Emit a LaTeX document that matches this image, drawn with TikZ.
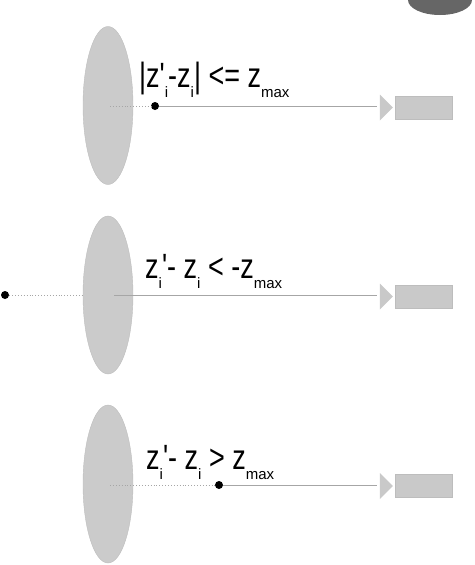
\documentclass[tikz,border=0pt]{standalone}
\usepackage{fontspec}
\setmainfont{Liberation Sans}
\usepackage{xcolor}
\usetikzlibrary{shapes.geometric,positioning}

\definecolor{lensgray}{HTML}{CBCBCB}
\definecolor{lensedge}{HTML}{BDBDBD}
\definecolor{boxgray}{HTML}{C9C9C9}
\definecolor{raygray}{HTML}{A6A6A6}
\definecolor{capgray}{HTML}{666666}

\newcommand{\tall}[1]{\scalebox{1}[1.3]{#1}}
\newcommand{\lowsub}[1]{\raisebox{-10pt}{\fontsize{15}{15}\selectfont #1}}
\newcommand{\tick}{\textquotesingle}

\begin{document}
\begin{tikzpicture} [
    x = 1pt, y = -1pt,
    lens/.style = { ellipse, fill = lensgray, draw = lensedge, minimum width = 50pt, minimum height = 158pt, inner sep = 0 },
    spot/.style = { circle, fill = black, minimum size = 8pt, inner sep = 0 },
    sensor/.style = { rectangle, fill = boxgray, draw = lensedge, minimum width = 57pt, minimum height = 23pt, inner sep = 0 },
    ray/.style = { draw = raygray, line width = 0.9pt },
    virt/.style = { draw = raygray, dotted, line width = 0.9pt },
    lbl/.style = { anchor = base west, inner sep = 0, font = \fontsize{27}{27}\selectfont }
    ]

    \useasboundingbox (0,0) rectangle (474,565);
    \clip (0,0) rectangle (474,565);

    % corner shape
    \fill [capgray] (440,0) ellipse [x radius = 32pt, y radius = 15pt];

    % first case
    \node [lens] (lensA) at (108,105.5) {};
    \node [sensor] (boxA) at (423.5,107.5) {};
    \fill [boxgray] ([xshift=-2pt]boxA.west) -- ++(-13,-13) -- ++(0,26) -- cycle;
    \coordinate (axisA) at (110,106);
    \coordinate (endA) at (377,106);
    \node [spot] (spotA) at (155,106) {};
    \draw [virt] (axisA) -- (spotA);
    \draw [ray] (spotA) -- (endA);
    \node [lbl] (labelA) at (139,87) {\tall{|z\tick}\lowsub{i}\tall{-z}\lowsub{i}\tall{| <= z}\lowsub{max}};

    % second case
    \node [lens] (lensB) at (108,295) {};
    \node [sensor] (boxB) at (423.5,296.5) {};
    \fill [boxgray] ([xshift=-2pt]boxB.west) -- ++(-13,-13) -- ++(0,26) -- cycle;
    \coordinate (axisB) at (114,295);
    \coordinate (endB) at (377,295);
    \node [spot] (spotB) at (5,295) {};
    \draw [virt] (spotB) -- (lensB.west);
    \draw [ray] (axisB) -- (endB);
    \node [lbl] (labelB) at (145,278) {\tall{z}\lowsub{i}\tall{\tick- z}\lowsub{i}\tall{ < -z}\lowsub{max}};

    % third case
    \node [lens] (lensC) at (108,484) {};
    \node [sensor] (boxC) at (423.5,486) {};
    \fill [boxgray] ([xshift=-2pt]boxC.west) -- ++(-13,-13) -- ++(0,26) -- cycle;
    \coordinate (axisC) at (110,485);
    \coordinate (endC) at (377,485);
    \node [spot] (spotC) at (219,485) {};
    \draw [virt] (axisC) -- (spotC);
    \draw [ray] (spotC) -- (endC);
    \node [lbl] (labelC) at (146,469) {\tall{z}\lowsub{i}\tall{\tick- z}\lowsub{i}\tall{ > z}\lowsub{max}};
\end{tikzpicture}
\end{document}
